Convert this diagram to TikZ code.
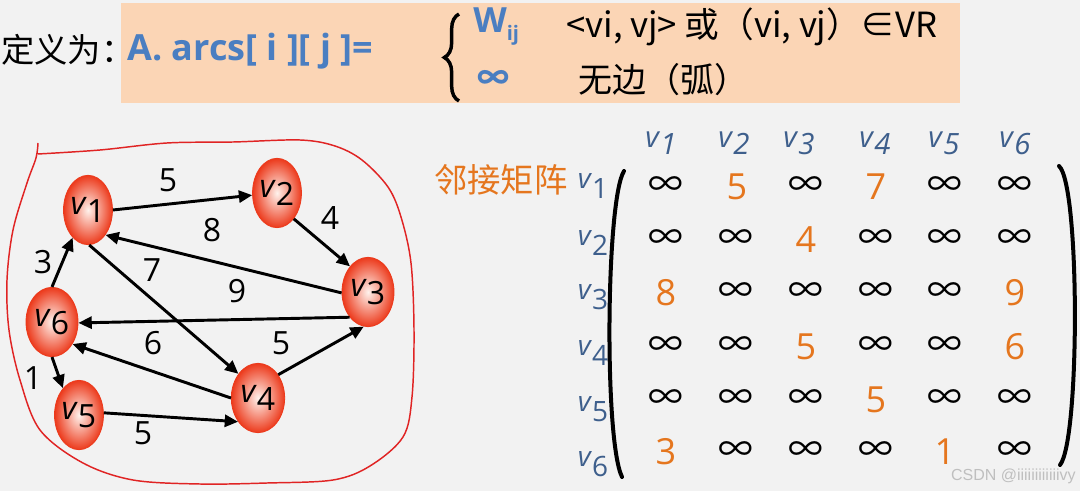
\documentclass[tikz,border=0pt]{standalone}
\usepackage{fontspec}
\setmainfont{Open Sans}
\newfontfamily\cjk{Noto Sans CJK SC}
\newfontfamily\wmfont{Liberation Sans}
\usetikzlibrary{shapes.geometric,arrows.meta,decorations.pathreplacing}
\definecolor{bg}{HTML}{F2F2F2}
\definecolor{peach}{HTML}{FBD5B5}
\definecolor{tblue}{HTML}{4A7EC1}
\definecolor{hblue}{HTML}{3E5F8C}
\definecolor{orng}{HTML}{E5761E}
\definecolor{curve}{HTML}{E02424}
\definecolor{nodeout}{HTML}{EC3A1C}
\definecolor{nodein}{HTML}{FFF2EC}
\newcommand{\vlab}[1]{\textit{v}\raisebox{-6pt}{#1}}
\newcommand{\rowlab}[1]{\textit{v}\raisebox{-7pt}{#1}}
\newcommand{\collab}[1]{\textit{v}\raisebox{-5pt}{\textit{#1}}}
\tikzset{
  vert/.style={ellipse, inner sep=0pt, minimum width=36pt, minimum height=52pt,
    draw=nodeout, line width=0.6pt, inner color=nodein, outer color=nodeout,
    font=\fontsize{24}{25}\selectfont},
  arc/.style={line width=2.2pt, -{Triangle[length=10pt,width=9pt]}},
  wlab/.style={font=\fontsize{24}{25}\selectfont},
  ent/.style={font=\cjk\fontsize{26}{28}\selectfont},
  num/.style={font=\fontsize{27}{28}\selectfont, text=orng},
  rlab/.style={font=\fontsize{21}{22}\selectfont, text=hblue},
  clab/.style={font=\fontsize{22}{23}\selectfont, text=hblue},
  paren/.style={line width=3pt, line cap=round}
}
\begin{document}
\begin{tikzpicture}[x=0.75pt,y=-0.75pt]
\fill[bg] (0,0) rectangle (1080,491);
\useasboundingbox (0,0) rectangle (1080,491);

% ---------- header ----------
\node[anchor=west, font=\cjk\fontsize{25}{27}\selectfont, inner sep=0pt] (def) at (1,50) {定义为：};
\fill[peach] (121,3) rectangle (960,103);
\node[anchor=west, text=tblue, font=\bfseries\fontsize{27}{29}\selectfont, inner sep=0pt] (arcs) at (127,51) {A. arcs[ i ][ j ]=};
\draw[line width=2.6pt, decorate, decoration={brace, amplitude=11pt, raise=0pt}] (459,101) -- (459,14);
\node[anchor=west, text=tblue, font=\bfseries\fontsize{26}{28}\selectfont, inner sep=0pt] (w) at (473,27) {W\raisebox{-6pt}{\fontsize{15}{16}\selectfont ij}};
\node[text=tblue, font=\cjk\bfseries\fontsize{24}{26}\selectfont, inner sep=0pt] (inf) at (493,80) {∞};
\node[anchor=west, font=\cjk\fontsize{26}{28}\selectfont, inner sep=0pt] (cond) at (566,27) {<vi, vj> 或（vi, vj）∈VR};
\node[anchor=west, font=\cjk\fontsize{25.5}{28}\selectfont, inner sep=0pt] (none) at (578,80) {无边（弧）};

% ---------- outline ----------
\draw[curve, line width=1.1pt] plot[smooth, tension=0.55] coordinates {
 (38,154) (100,150) (167,143) (233,142) (300,140) (335,146) (362,160) (388,187)
 (401,217) (411,263) (414,330) (412,397) (403,437) (370,466) (333,480)
 (267,483) (200,484) (133,480) (83,463) (40,430) (20,380) (9,330) (7,280)
 (13,230) (27,183) (36,158) (38,143)};

% ---------- graph ----------
\node[vert] (v1) at (88,210) {\vlab{1}};
\node[vert] (v2) at (277,193) {\vlab{2}};
\node[vert, minimum width=39pt] (v3) at (368,292) {\vlab{3}};
\node[vert, minimum width=40pt] (v4) at (258,398) {\vlab{4}};
\node[vert, minimum width=33pt] (v5) at (79,415) {\vlab{5}};
\node[vert, minimum width=39pt] (v6) at (52,322) {\vlab{6}};

\draw[arc] (v1.0) -- (v2.185);
\draw[arc] (v2.-57) -- (v3.125);
\draw[arc] (v3.182) -- (v1.-55);
\draw[arc] (v1.-88) -- (v4.129);
\draw[arc] (v3.234) -- (v6.-2);
\draw[arc] (v4.49) -- (v3.263);
\draw[arc] (v4.180) -- (v6.-47);
\draw[arc] (v5.5) -- (v4.230);
\draw[arc] (v6.-90) -- (v5.121);
\draw[arc] (v6.90) -- (v1.241);

\node[wlab] (w12) at (168,180) {5};
\node[wlab] (w23) at (330,218) {4};
\node[wlab] (w31) at (212,230) {8};
\node[wlab] (w14) at (152,270) {7};
\node[wlab] (w36) at (237,291) {9};
\node[wlab] (w43) at (281,343) {5};
\node[wlab] (w46) at (153,343) {6};
\node[wlab] (w61) at (43,262) {3};
\node[wlab] (w65) at (33,378) {1};
\node[wlab] (w54) at (143,433) {5};

% ---------- matrix ----------
\node[anchor=west, text=orng, font=\cjk\fontsize{25}{27}\selectfont, inner sep=0pt] (title) at (434,180) {邻接矩阵};

\node[clab] (c1) at (661,143) {\collab{1}};
\node[clab] (c2) at (734,143) {\collab{2}};
\node[clab] (c3) at (799,143) {\collab{3}};
\node[clab] (c4) at (875,143) {\collab{4}};
\node[clab] (c5) at (944,143) {\collab{5}};
\node[clab] (c6) at (1015,143) {\collab{6}};

\node[rlab] (r1) at (593,186) {\rowlab{1}};
\node[rlab] (r2) at (593,243) {\rowlab{2}};
\node[rlab] (r3) at (593,297) {\rowlab{3}};
\node[rlab] (r4) at (593,353) {\rowlab{4}};
\node[rlab] (r5) at (593,409) {\rowlab{5}};
\node[rlab] (r6) at (593,464) {\rowlab{6}};

\draw[paren] (624,171) .. controls (606,200) and (604,440) .. (622,477);
\draw[paren] (1059,166) .. controls (1080,185) and (1080,440) .. (1060,465);

% row 1
\node[ent] (m11) at (666,187) {∞};
\node[num] (m12) at (737,187) {5};
\node[ent] (m13) at (806,187) {∞};
\node[num] (m14) at (876,187) {7};
\node[ent] (m15) at (945,187) {∞};
\node[ent] (m16) at (1015,187) {∞};
% row 2
\node[ent] (m21) at (666,240) {∞};
\node[ent] (m22) at (736,240) {∞};
\node[num] (m23) at (806,240) {4};
\node[ent] (m24) at (876,240) {∞};
\node[ent] (m25) at (945,240) {∞};
\node[ent] (m26) at (1015,240) {∞};
% row 3
\node[num] (m31) at (666,293) {8};
\node[ent] (m32) at (736,293) {∞};
\node[ent] (m33) at (806,293) {∞};
\node[ent] (m34) at (876,293) {∞};
\node[ent] (m35) at (945,293) {∞};
\node[num] (m36) at (1015,293) {9};
% row 4
\node[ent] (m41) at (666,347) {∞};
\node[ent] (m42) at (736,347) {∞};
\node[num] (m43) at (806,347) {5};
\node[ent] (m44) at (876,347) {∞};
\node[ent] (m45) at (945,347) {∞};
\node[num] (m46) at (1015,347) {6};
% row 5
\node[ent] (m51) at (666,400) {∞};
\node[ent] (m52) at (736,400) {∞};
\node[ent] (m53) at (806,400) {∞};
\node[num] (m54) at (876,400) {5};
\node[ent] (m55) at (945,400) {∞};
\node[ent] (m56) at (1015,400) {∞};
% row 6
\node[num] (m61) at (666,452) {3};
\node[ent] (m62) at (736,452) {∞};
\node[ent] (m63) at (806,452) {∞};
\node[ent] (m64) at (876,452) {∞};
\node[num] (m65) at (945,452) {1};
\node[ent] (m66) at (1015,452) {∞};

% watermark
\node[anchor=east, text=black!25, font=\wmfont\fontsize{12}{13}\selectfont, inner sep=0pt] (wm) at (1076,476) {CSDN @iiiiiiiiiiiivy};
\end{tikzpicture}
\end{document}
